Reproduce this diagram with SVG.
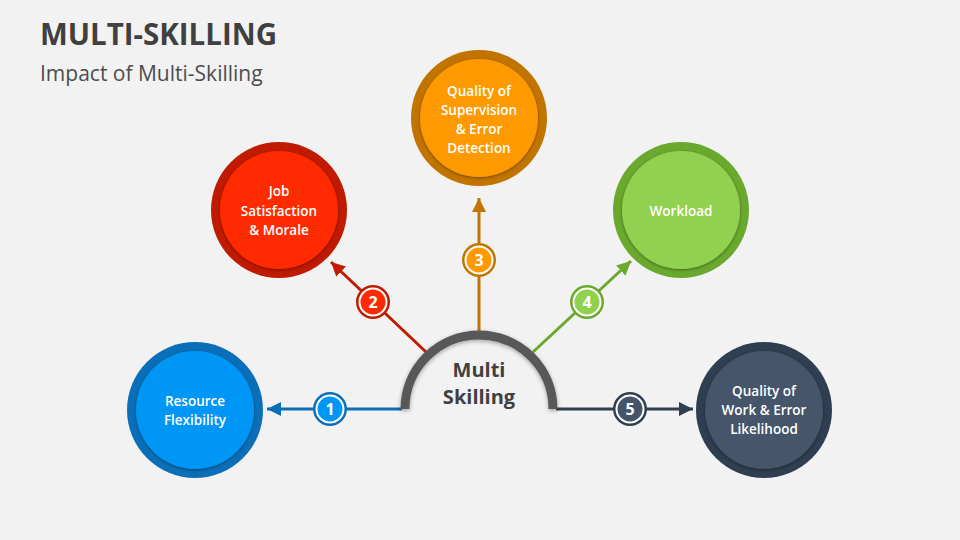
<svg xmlns="http://www.w3.org/2000/svg" width="960" height="540" viewBox="0 0 960 540">
<defs>
<style>
.t{font-family:"Open Sans","Liberation Sans",sans-serif;fill:#ffffff;text-anchor:middle;font-size:13.5px;font-weight:600}
.b{font-family:"Open Sans","Liberation Sans",sans-serif;fill:#ffffff;text-anchor:middle;font-size:16px;font-weight:bold}
.h{font-family:"Open Sans","Liberation Sans",sans-serif;font-size:20px;font-weight:bold;fill:#404040;text-anchor:middle}
.c{fill:none;stroke-width:3}
</style>
<filter id="sh" x="-20%" y="-20%" width="140%" height="140%"><feDropShadow dx="0" dy="1.5" stdDeviation="2" flood-color="#000" flood-opacity="0.35"/></filter>
<filter id="ish" x="-20%" y="-20%" width="140%" height="140%"><feDropShadow dx="0" dy="1" stdDeviation="1.5" flood-color="#000" flood-opacity="0.4"/></filter>
<marker id="m1" markerUnits="userSpaceOnUse" markerWidth="16" markerHeight="16" refX="14" refY="7" orient="auto"><path d="M0,0 L14,7 L0,14 z" fill="#0a6fb8"/></marker>
<marker id="m2" markerUnits="userSpaceOnUse" markerWidth="16" markerHeight="16" refX="14" refY="7" orient="auto"><path d="M0,0 L14,7 L0,14 z" fill="#c01a00"/></marker>
<marker id="m3" markerUnits="userSpaceOnUse" markerWidth="16" markerHeight="16" refX="14" refY="7" orient="auto"><path d="M0,0 L14,7 L0,14 z" fill="#c27400"/></marker>
<marker id="m4" markerUnits="userSpaceOnUse" markerWidth="16" markerHeight="16" refX="14" refY="7" orient="auto"><path d="M0,0 L14,7 L0,14 z" fill="#6aa82e"/></marker>
<marker id="m5" markerUnits="userSpaceOnUse" markerWidth="16" markerHeight="16" refX="14" refY="7" orient="auto"><path d="M0,0 L14,7 L0,14 z" fill="#2f3e50"/></marker>
</defs>
<rect width="960" height="540" fill="#f2f2f2"/>
<text x="40" y="45" font-family="'Open Sans','Liberation Sans',sans-serif" font-size="30" font-weight="bold" fill="#404040" textLength="237" lengthAdjust="spacingAndGlyphs">MULTI-SKILLING</text>
<text x="40" y="81" font-family="'Open Sans','Liberation Sans',sans-serif" font-size="21" fill="#4d4d4d">Impact of Multi-Skilling</text>

<g id="connectors">
<line class="c" x1="402" y1="409" x2="267" y2="409" stroke="#0a6fb8" marker-end="url(#m1)"/>
<line class="c" x1="426" y1="352" x2="331" y2="262" stroke="#c01a00" marker-end="url(#m2)"/>
<line class="c" x1="479" y1="332" x2="479" y2="198" stroke="#c27400" marker-end="url(#m3)"/>
<line class="c" x1="533" y1="352" x2="631" y2="261" stroke="#6aa82e" marker-end="url(#m4)"/>
<line class="c" x1="556" y1="409" x2="693" y2="409" stroke="#2f3e50" marker-end="url(#m5)"/>
</g>

<g id="hub">
<path d="M405,409 A74,74 0 0 1 553,409 Z" fill="#f2f2f2"/>
<path d="M405,409 A74,74 0 0 1 553,409" fill="none" stroke="#595959" stroke-width="9" filter="url(#sh)"/>
<text class="h" x="479" y="377">Multi</text>
<text class="h" x="479" y="404">Skilling</text>
</g>

<g id="badge1"><circle cx="330" cy="409" r="17" fill="#0a6fb8"/><circle cx="330" cy="409" r="14.5" fill="#ffffff"/><circle cx="330" cy="409" r="12.5" fill="#0096f5"/><text class="b" x="330" y="415">1</text></g>
<g id="badge2"><circle cx="373" cy="302" r="17" fill="#c01a00"/><circle cx="373" cy="302" r="14.5" fill="#ffffff"/><circle cx="373" cy="302" r="12.5" fill="#ff2a00"/><text class="b" x="373" y="308">2</text></g>
<g id="badge3"><circle cx="479" cy="260" r="17" fill="#c27400"/><circle cx="479" cy="260" r="14.5" fill="#ffffff"/><circle cx="479" cy="260" r="12.5" fill="#ff9900"/><text class="b" x="479" y="266">3</text></g>
<g id="badge4"><circle cx="587" cy="302" r="17" fill="#6aa82e"/><circle cx="587" cy="302" r="14.5" fill="#ffffff"/><circle cx="587" cy="302" r="12.5" fill="#92d050"/><text class="b" x="587" y="308">4</text></g>
<g id="badge5"><circle cx="630" cy="409" r="17" fill="#2f3e50"/><circle cx="630" cy="409" r="14.5" fill="#ffffff"/><circle cx="630" cy="409" r="12.5" fill="#44546a"/><text class="b" x="630" y="415">5</text></g>

<g id="node1">
<circle cx="195" cy="410" r="68" fill="#0a6fb8"/>
<circle cx="195" cy="410" r="59" fill="#0096f5" filter="url(#ish)"/>
<text class="t" x="195" y="406">Resource</text>
<text class="t" x="195" y="425">Flexibility</text>
</g>
<g id="node2">
<circle cx="279" cy="210" r="68" fill="#c01a00"/>
<circle cx="279" cy="210" r="59" fill="#ff2a00" filter="url(#ish)"/>
<text class="t" x="279" y="196">Job</text>
<text class="t" x="279" y="216">Satisfaction</text>
<text class="t" x="279" y="235">&amp; Morale</text>
</g>
<g id="node3">
<circle cx="479" cy="118" r="68" fill="#c27400"/>
<circle cx="479" cy="118" r="59" fill="#ff9900" filter="url(#ish)"/>
<text class="t" x="479" y="96">Quality of</text>
<text class="t" x="479" y="115">Supervision</text>
<text class="t" x="479" y="134">&amp; Error</text>
<text class="t" x="479" y="153">Detection</text>
</g>
<g id="node4">
<circle cx="681" cy="210" r="68" fill="#6aa82e"/>
<circle cx="681" cy="210" r="59" fill="#92d050" filter="url(#ish)"/>
<text class="t" x="681" y="216">Workload</text>
</g>
<g id="node5">
<circle cx="764" cy="410" r="68" fill="#2f3e50"/>
<circle cx="764" cy="410" r="59" fill="#44546a" filter="url(#ish)"/>
<text class="t" x="764" y="396">Quality of</text>
<text class="t" x="764" y="415">Work &amp; Error</text>
<text class="t" x="764" y="434">Likelihood</text>
</g>
</svg>
